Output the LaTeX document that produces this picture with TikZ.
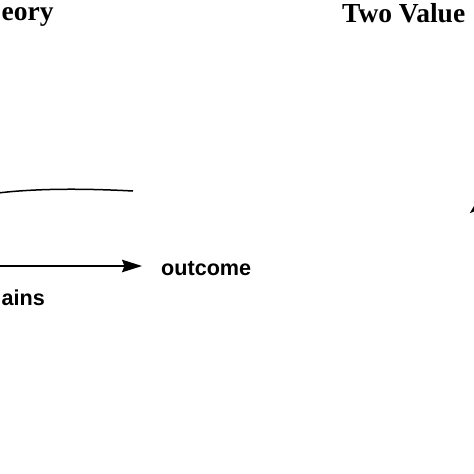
\documentclass[tikz,border=0pt]{standalone}
\usepackage{fontspec}
\setmainfont{Liberation Serif}
\setsansfont{Liberation Sans}
\usepackage{tikz}
\usetikzlibrary{arrows.meta,positioning,calc}
\tikzset{
    % Heading text
    headnode/.style={
        inner sep=0pt,
        font=\fontsize{27.5}{31}\selectfont\bfseries
    },
    % Label text
    labelnode/.style={
        inner sep=0pt,
        font=\fontsize{21.6}{25}\sffamily\bfseries
    },
    % Arrow styles
    myarrow/.style={
        -{Stealth[length=20pt,width=12.5pt,inset=2.5pt]},
        line width=1.8pt,
        draw=black
    },
    uparrow/.style={
        -{Stealth[length=14pt,width=16pt,inset=3pt]},
        line width=1.8pt,
        draw=black
    },
    arcline/.style={
        line width=1.5pt,
        draw=black
    }
}
\begin{document}
\begin{tikzpicture}[x=1pt, y=-1pt]
        \useasboundingbox (0,0) rectangle (474,474);
        \clip (0,0) rectangle (474,474);

        % Headings
        \node[headnode, anchor=base west] (theory) at (1.5,20) {eory};
        \node[headnode, anchor=base west] (twovalue) at (342,22) {Two Value};

        % Labels
        \node[labelnode, anchor=base west] (out) at (161,275) {outcome};
        \node[labelnode, anchor=base west] (ains) at (1.5,305) {ains};

        % Arc coming in from the left
        \coordinate (arcL) at (-6,193.5);
        \coordinate (arcR) at (133,191);
        \draw[arcline] (arcL) .. controls (40,187.5) and (95,189) .. (arcR);

        % Arrow to outcome
        \coordinate (src) at (-10,266);
        \draw[myarrow, shorten >=19pt] (src) -- (src -| out.west);

        % Arrow at the right edge
        \coordinate (vbot) at (478,420);
        \coordinate (vtop) at (478,199);
        \draw[uparrow] (vbot) -- (vtop);
    \end{tikzpicture}
\end{document}
